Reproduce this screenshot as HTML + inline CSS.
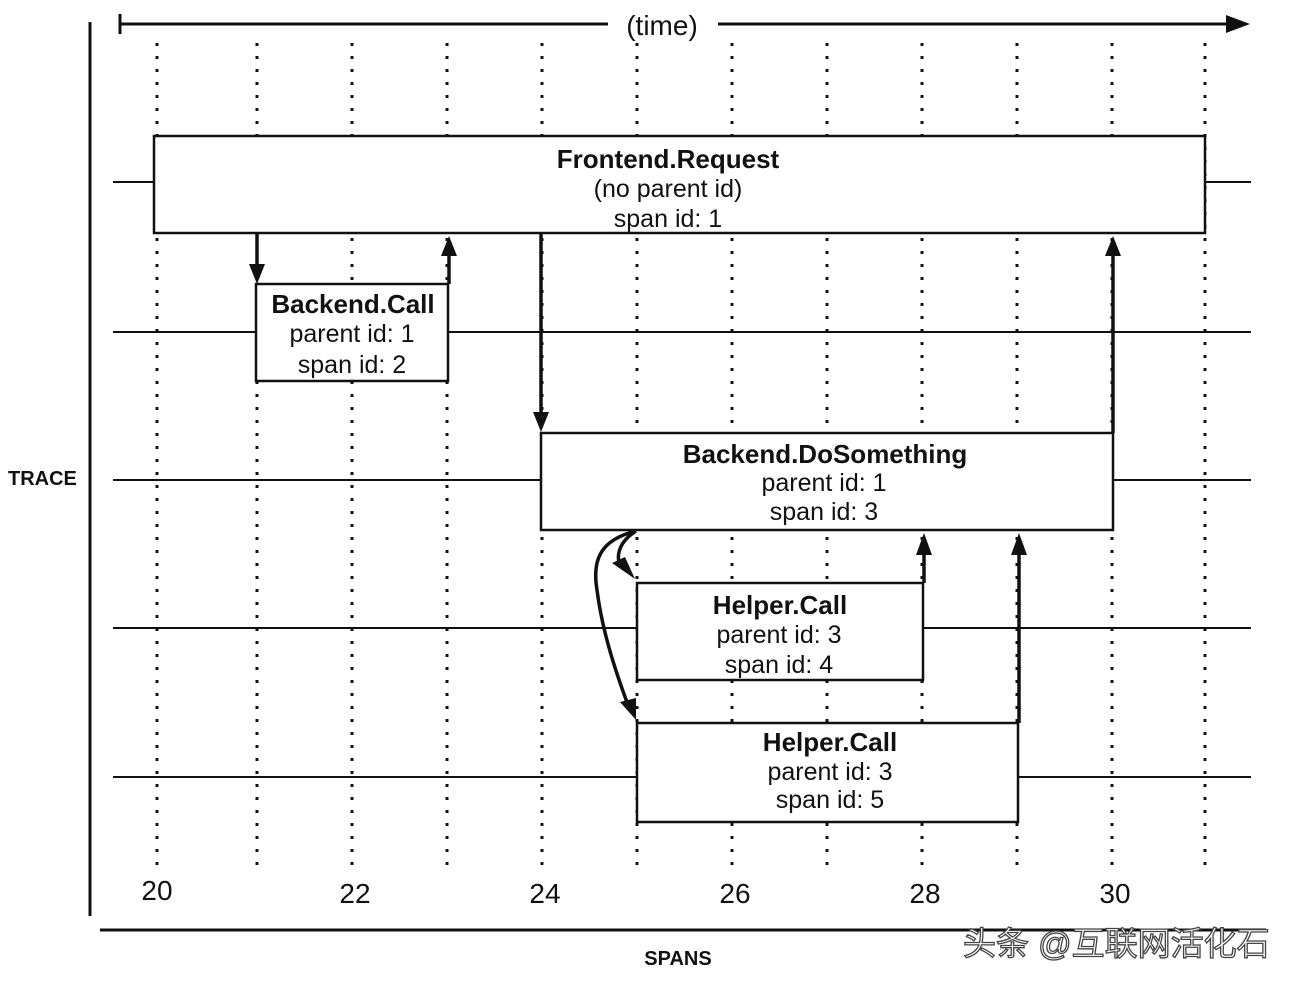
<!DOCTYPE html>
<html><head><meta charset="utf-8"><style>
html,body{margin:0;padding:0;background:#fff;}
svg{display:block;}
text{font-family:"Liberation Sans",sans-serif;fill:#111;}
</style></head><body>
<svg width="1294" height="988" viewBox="0 0 1294 988" xmlns="http://www.w3.org/2000/svg">
<!-- time axis -->
<line x1="120" y1="14" x2="120" y2="34" stroke="#111" stroke-width="3"/>
<line x1="120" y1="24" x2="608" y2="24" stroke="#111" stroke-width="3"/>
<line x1="718" y1="24" x2="1230" y2="24" stroke="#111" stroke-width="3"/>
<path d="M1226,15 L1250,24 L1226,33 z" fill="#111"/>
<text x="662" y="35" font-size="28" text-anchor="middle">(time)</text>
<!-- dotted verticals -->
<g stroke="#111" stroke-width="3" stroke-dasharray="3 10">
<line x1="157" y1="43" x2="157" y2="866"/>
<line x1="257" y1="43" x2="257" y2="866"/>
<line x1="352" y1="43" x2="352" y2="866"/>
<line x1="447" y1="43" x2="447" y2="866"/>
<line x1="542" y1="43" x2="542" y2="866"/>
<line x1="637" y1="43" x2="637" y2="866"/>
<line x1="732" y1="43" x2="732" y2="866"/>
<line x1="827" y1="43" x2="827" y2="866"/>
<line x1="922" y1="43" x2="922" y2="866"/>
<line x1="1017" y1="43" x2="1017" y2="866"/>
<line x1="1112" y1="43" x2="1112" y2="866"/>
<line x1="1205" y1="43" x2="1205" y2="866"/>
</g>
<!-- horizontal lines -->
<g stroke="#111" stroke-width="2">
<line x1="113" y1="182" x2="1251" y2="182"/>
<line x1="113" y1="332" x2="1251" y2="332"/>
<line x1="113" y1="480" x2="1251" y2="480"/>
<line x1="113" y1="628" x2="1251" y2="628"/>
<line x1="113" y1="777" x2="1251" y2="777"/>
</g>
<!-- boxes -->
<g fill="#fff" stroke="#111" stroke-width="2.5">
<rect x="154" y="136" width="1051" height="97"/>
<rect x="256" y="284" width="192" height="97"/>
<rect x="541" y="433" width="572" height="97"/>
<rect x="637" y="583" width="286" height="97"/>
<rect x="637" y="723" width="381" height="99"/>
</g>
<g font-size="25" text-anchor="middle">
<text x="668" y="168" font-weight="bold" font-size="26">Frontend.Request</text>
<text x="668" y="197">(no parent id)</text>
<text x="668" y="227">span id: 1</text>
<text x="353" y="313" font-weight="bold" font-size="26">Backend.Call</text>
<text x="352" y="342">parent id: 1</text>
<text x="352" y="373">span id: 2</text>
<text x="825" y="463" font-weight="bold" font-size="26">Backend.DoSomething</text>
<text x="824" y="491">parent id: 1</text>
<text x="824" y="520">span id: 3</text>
<text x="780" y="614" font-weight="bold" font-size="26">Helper.Call</text>
<text x="779" y="643">parent id: 3</text>
<text x="779" y="673">span id: 4</text>
<text x="830" y="751" font-weight="bold" font-size="26">Helper.Call</text>
<text x="830" y="780">parent id: 3</text>
<text x="830" y="808">span id: 5</text>
</g>
<!-- arrows -->
<g stroke="#111" stroke-width="3.5" fill="none">
<line x1="257" y1="234" x2="257" y2="266"/>
<line x1="449" y1="284" x2="449" y2="252"/>
<line x1="541" y1="234" x2="541" y2="415"/>
<line x1="1113" y1="433" x2="1113" y2="252"/>
<line x1="924" y1="583" x2="924" y2="550"/>
<line x1="1019" y1="723" x2="1019" y2="550"/>
<path d="M636,531 C622,540 615,552 620,567"/>
<path d="M636,531 C600,540 592,560 597,590 C602,630 615,670 628,705"/>
</g>
<g fill="#111">
<path d="M249,264 L257,284 L265,264 z"/>
<path d="M441,256 L449,236 L457,256 z"/>
<path d="M533,412 L541,432 L549,412 z"/>
<path d="M1105,256 L1113,236 L1121,256 z"/>
<path d="M916,555 L924,533 L932,555 z"/>
<path d="M1011,555 L1019,533 L1027,555 z"/>
<path d="M612,563 L635,579 L625,557 z"/>
<path d="M620,702 L636,720 L636,698 z"/>
</g>
<!-- axes -->
<line x1="90" y1="22" x2="90" y2="916" stroke="#111" stroke-width="3"/>
<line x1="100" y1="930" x2="1266" y2="930" stroke="#111" stroke-width="3"/>
<text x="8" y="485" font-size="20" font-weight="bold">TRACE</text>
<text x="678" y="965" font-size="20" font-weight="bold" text-anchor="middle">SPANS</text>
<g font-size="28" text-anchor="middle">
<text x="157" y="900">20</text>
<text x="355" y="903">22</text>
<text x="545" y="903">24</text>
<text x="735" y="903">26</text>
<text x="925" y="903">28</text>
<text x="1115" y="903">30</text>
</g>
<text x="963" y="955" font-size="33" font-family="'Liberation Sans','Noto Sans CJK SC',sans-serif" style="fill:#fff;stroke:#444;stroke-width:1.3">头条 @互联网活化石</text>
</svg>
</body></html>
